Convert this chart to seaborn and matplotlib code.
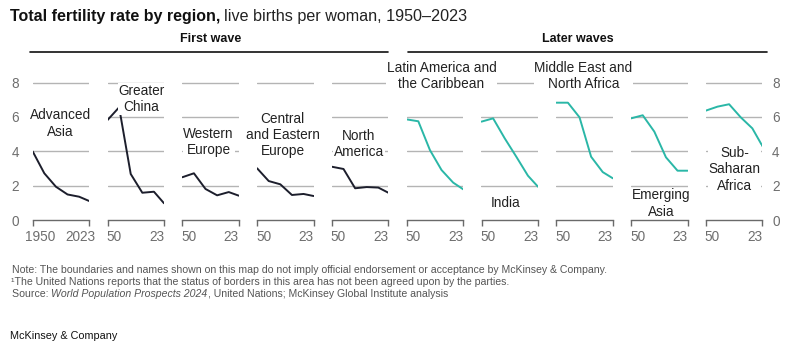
import numpy as np
import pandas as pd
import matplotlib
matplotlib.use("Agg")
import matplotlib.pyplot as plt
from matplotlib.lines import Line2D
from matplotlib.transforms import ScaledTranslation
import seaborn as sns

# data (live births per woman)
years = [1950, 1965, 1980, 1995, 2010, 2023]
regions = ["Advanced Asia", "Greater China", "Western Europe", "Central and Eastern Europe",
           "North America", "Latin America and the Caribbean", "India",
           "Middle East and North Africa", "Emerging Asia", "Sub-Saharan Africa"]
labels = ["Advanced\nAsia", "Greater\nChina", "Western\nEurope", "Central\nand Eastern\nEurope",
          "North\nAmerica", "Latin America and\nthe Caribbean", "India",
          "Middle East and\nNorth Africa", "Emerging\nAsia", "Sub-\nSaharan\nAfrica"]
waves = ["First wave"] * 5 + ["Later waves"] * 5

adv_asia = [4.0, 2.73, 1.95, 1.5, 1.37, 1.12]
greater_china = [5.82, 6.56, 2.69, 1.6, 1.66, 0.99]
western_europe = [2.5, 2.73, 1.82, 1.45, 1.64, 1.43]
ce_europe = [3.02, 2.28, 2.09, 1.47, 1.53, 1.41]
north_america = [3.11, 2.98, 1.86, 1.93, 1.9, 1.6]
latam = [5.86, 5.75, 4.08, 2.92, 2.19, 1.8]
india = [5.73, 5.92, 4.76, 3.69, 2.59, 1.95]
mena = [6.83, 6.83, 5.98, 3.69, 2.8, 2.44]
emerging_asia = [5.92, 6.1, 5.15, 3.66, 2.88, 2.88]
ssa = [6.37, 6.6, 6.74, 5.98, 5.34, 4.31]
series = [adv_asia, greater_china, western_europe, ce_europe, north_america,
          latam, india, mena, emerging_asia, ssa]

# where the region names sit (year, value)
label_pos = [(1986, 5.62), (1994, 7.04), (1984, 4.53), (1983, 4.94), (1985, 4.45),
             (1995, 8.38), (1981, 0.99), (1985, 8.38), (1989, 0.98), (1987, 2.96)]

rows = []
for r, w, vals in zip(regions, waves, series):
    for y, v in zip(years, vals):
        rows.append({"region": r, "wave": w, "year": y, "tfr": v})
df = pd.DataFrame(rows)

sns.set_theme(style="white")
plt.rcParams["font.family"] = ["Liberation Sans", "DejaVu Sans"]

W, H = 801, 351
fig = plt.figure(figsize=(W / 100, H / 100), dpi=100)

colors = {"First wave": "#1c1e2c", "Later waves": "#2ab7a7"}
grid_c = "#b4b4b4"
tick_c = "#6e6e6e"
tsize = 9.8

left0, step, pw = 32.7, 74.8, 56.5
y0px, unit = 220.3, 17.22
ytop = 8.4
for i, r in enumerate(regions):
    left = left0 + i * step
    top_px = y0px - ytop * unit
    ax = fig.add_axes([left / W, 1 - y0px / H, pw / W, (y0px - top_px) / H])
    sub = df[df.region == r]
    for g in [2, 4, 6, 8]:
        ax.axhline(g, color=grid_c, lw=1, zorder=0)
    sns.lineplot(data=sub, x="year", y="tfr", color=colors[waves[i]], lw=1.4, ax=ax, zorder=2)
    ax.set_xlim(1950, 2023)
    ax.set_ylim(0, ytop)
    ax.set_xlabel("")
    ax.set_ylabel("")
    for s in ["top", "left", "right"]:
        ax.spines[s].set_visible(False)
    ax.spines["bottom"].set_color("#6a6a6a")
    ax.spines["bottom"].set_linewidth(1)
    ax.set_xticks([1950, 2023])
    ax.set_xticklabels(["1950", "2023"] if i == 0 else ["50", "23"])
    ax.tick_params(axis="x", direction="out", length=4, width=1, color="#6a6a6a",
                   labelcolor=tick_c, labelsize=tsize, pad=3, bottom=True)
    # end labels pulled inward, as in the original
    xl = ax.get_xticklabels()
    shift = (-8, 6) if i == 0 else (-1, 0)
    xl[0].set_ha("left")
    xl[1].set_ha("right")
    xl[0].set_transform(xl[0].get_transform() + ScaledTranslation(shift[0] / 100, 0, fig.dpi_scale_trans))
    xl[1].set_transform(xl[1].get_transform() + ScaledTranslation(shift[1] / 100, 0, fig.dpi_scale_trans))
    ax.set_yticks([0, 2, 4, 6, 8])
    if i == 0:
        ax.tick_params(axis="y", length=0, labelcolor=tick_c, labelsize=tsize, pad=10)
    elif i == len(regions) - 1:
        ax.yaxis.tick_right()
        ax.tick_params(axis="y", length=0, labelcolor=tick_c, labelsize=tsize, pad=7)
    else:
        ax.set_yticklabels([])
        ax.tick_params(axis="y", length=0)
    ax.patch.set_alpha(0)
    lx, ly = label_pos[i]
    fig.text(lx, ly, labels[i], transform=ax.transData, ha="center", va="center",
             fontsize=9.8, color="#222222", linespacing=1.2, zorder=5,
             bbox=dict(facecolor="white", edgecolor="none", pad=0.6))

# wave headers
fig.text(211 / W, 1 - 39 / H, "First wave", ha="center", va="center",
         fontsize=9, fontweight="bold", color="#111111")
fig.text(578 / W, 1 - 39 / H, "Later waves", ha="center", va="center",
         fontsize=9, fontweight="bold", color="#111111")
fig.add_artist(Line2D([30 / W, 388 / W], [1 - 52 / H, 1 - 52 / H], color="#111111", lw=1.2))
fig.add_artist(Line2D([408 / W, 767 / W], [1 - 52 / H, 1 - 52 / H], color="#111111", lw=1.2))

# title: bold lead then regular
t1 = fig.text(10 / W, 1 - 16 / H, "Total fertility rate by region,", ha="left", va="center",
              fontsize=11.5, fontweight="bold", color="#111111")
fig.canvas.draw()
bb = t1.get_window_extent(renderer=fig.canvas.get_renderer())
fig.text((bb.x1 + 4) / W, 1 - 16 / H, "live births per woman, 1950\u20132023", ha="left",
         va="center", fontsize=11.6, color="#222222")

# notes
nsize = 7.55
note_font = ["Liberation Sans Narrow", "Liberation Sans", "DejaVu Sans"]
fig.text(12 / W, 1 - 270 / H,
         "Note: The boundaries and names shown on this map do not imply official endorsement "
         "or acceptance by McKinsey & Company.",
         ha="left", va="center", fontsize=nsize, color="#555555", family=note_font)
fig.text(11 / W, 1 - 282 / H,
         "\u00b9The United Nations reports that the status of borders in this area has not been "
         "agreed upon by the parties.",
         ha="left", va="center", fontsize=nsize, color="#555555", family=note_font)
t3 = fig.text(12 / W, 1 - 294 / H, "Source: ", ha="left", va="center", fontsize=nsize,
              color="#555555", family=note_font)
fig.canvas.draw()
bb3 = t3.get_window_extent(renderer=fig.canvas.get_renderer())
t4 = fig.text(bb3.x1 / W, 1 - 294 / H, "World Population Prospects 2024", ha="left",
              va="center", fontsize=nsize, color="#555555", style="italic", family=note_font)
fig.canvas.draw()
bb4 = t4.get_window_extent(renderer=fig.canvas.get_renderer())
fig.text(bb4.x1 / W, 1 - 294 / H, ", United Nations; McKinsey Global Institute analysis",
         ha="left", va="center", fontsize=nsize, color="#555555", family=note_font)

fig.text(10 / W, 1 - 336 / H, "McKinsey & Company", ha="left", va="center", fontsize=7.8,
         color="#111111", family=note_font)

fig.savefig("out.png", dpi=100)
